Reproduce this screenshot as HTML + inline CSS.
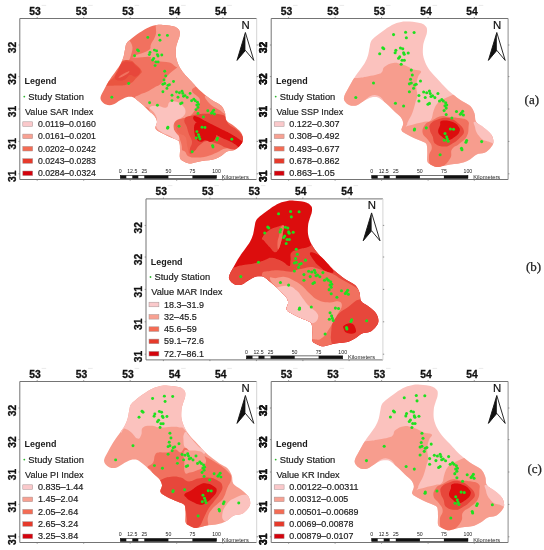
<!DOCTYPE html>
<html lang="en"><head><meta charset="utf-8"><title>Groundwater quality index maps</title>
<style>
html,body{margin:0;padding:0;background:#fff}
body{width:544px;height:550px;overflow:hidden}
svg{display:block}
.ax{font-family:"Liberation Sans",sans-serif;font-weight:700;font-size:10.3px;fill:#111;stroke:#111;stroke-width:0.3;text-anchor:middle}
.lg{font-family:"Liberation Sans",sans-serif;font-size:9px;fill:#1c1c1c;stroke:#1c1c1c;stroke-width:0.18}
.lgn{font-family:"Liberation Sans",sans-serif;font-size:8.6px;fill:#1c1c1c;stroke:#1c1c1c;stroke-width:0.18}
.lgb{font-family:"Liberation Sans",sans-serif;font-size:9px;font-weight:700;fill:#1a1a1a}
.sb{font-family:"Liberation Sans",sans-serif;font-size:5.2px;fill:#222;text-anchor:middle}
.km{font-family:"Liberation Sans",sans-serif;font-size:5.6px;fill:#222}
.n{font-family:"Liberation Sans",sans-serif;font-size:11.4px;fill:#111;stroke:#111;stroke-width:0.2;text-anchor:middle}
.pl{font-family:"Liberation Serif",serif;font-size:13px;fill:#222;stroke:#222;stroke-width:0.25}
.fr{fill:none;stroke:#747474;stroke-width:1}
.tk{stroke:#777;stroke-width:0.8}
.st{fill:#1fe01f}
</style></head><body>
<svg width="544" height="550" viewBox="0 0 544 550">
<defs>
<path id="outline" d="M157 25C159.4 24.6 161 24.9 163 25C165 25.1 167.2 25.2 169 25.5C170.8 25.8 172.7 26.1 174 26.5C175.3 26.9 176.1 27.2 177 28C177.9 28.8 179.1 29.7 179.5 31C179.9 32.3 179.8 34.2 179.5 36C179.2 37.8 178.1 40 177.5 42C176.9 44 176.2 45.5 176 48C175.8 50.5 175.5 54 176 57C176.5 60 177.7 63.2 179 66C180.3 68.8 182 71 184 73.5C186 76 188.8 78.7 191 81C193.2 83.3 194.8 85.3 197 87.5C199.2 89.7 201.3 91.8 204 94C206.7 96.2 210.2 98.8 213 100.7C215.8 102.6 219 103.5 221 105.5C223 107.5 224.1 110 225 112.5C225.9 115 225 118.2 226.5 120.5C228 122.8 231.6 124 234 126C236.4 128 239.5 130.2 241 132.5C242.5 134.8 243.2 137.8 243 140C242.8 142.2 241.4 143.9 240 145.6C238.6 147.3 236.7 149 234.5 150C232.3 151 229.2 150.5 227 151.5C224.8 152.5 223 154.8 221 156C219 157.2 217 158.3 215 159C213 159.7 211.2 160 209 160.3C206.8 160.6 204.3 160.6 202 161C199.7 161.4 197.2 162.1 195 162.5C192.8 162.9 191 163.8 189 163.5C187 163.2 184.5 161.9 183 161C181.5 160.1 180.5 159.8 180 158C179.5 156.2 180.1 152.3 180 150C179.9 147.7 180 145.6 179.7 144C179.4 142.4 179.7 141.6 178 140.4C176.3 139.2 172.6 138.3 169.4 136.8C166.2 135.3 161.3 133.1 159 131.6C156.7 130.1 155.7 129.6 155.4 128C155.1 126.4 157.1 124 157 122C156.9 120 156.1 118.1 154.7 116.2C153.3 114.3 150.4 112.4 148.5 110.5C146.6 108.6 144.7 106.6 143 105C141.3 103.4 139.9 102.2 138.2 100.9C136.5 99.6 134.9 97.8 133 97.2C131.1 96.6 128.6 96.7 126.5 97.2C124.4 97.7 122.8 98.8 120.6 100C118.3 101.2 115.4 103.8 113 104.6C110.6 105.4 107.9 105.2 106 104.6C104.1 104 102.4 102.3 101.5 101C100.6 99.7 100.2 98.5 100.7 96.5C101.2 94.5 102.8 92 104.4 89C106 86 108.3 81.9 110.3 78.8C112.3 75.7 114.5 73 116.2 70.5C117.9 68 119.4 66.2 120.6 64C121.8 61.8 122.8 59.4 123.5 57C124.2 54.6 124.5 51.6 125 49.4C125.5 47.1 125.5 45.2 126.5 43.5C127.5 41.8 128.8 40.8 131 39C133.2 37.2 136.8 34.4 139.7 32.5C142.6 30.6 145.6 28.6 148.5 27.4C151.4 26.1 154.6 25.4 157 25Z"/>
<clipPath id="cp0"><use href="#outline" transform="matrix(1.0 0 0 1.0 0 0)"/></clipPath>
<clipPath id="cp1"><use href="#outline" transform="matrix(1.049 0 0 1.05 238.5 -4.65)"/></clipPath>
<clipPath id="cp2"><use href="#outline" transform="matrix(1.049 0 0 1.05 123.5 174.55)"/></clipPath>
<clipPath id="cp3"><use href="#outline" transform="matrix(1.026 0 0 1.0265 0.94 360.1)"/></clipPath>
<clipPath id="cp4"><use href="#outline" transform="matrix(1.049 0 0 1.05 249.2 358.55)"/></clipPath>
<filter id="soft" x="-5%" y="-5%" width="110%" height="110%"><feGaussianBlur stdDeviation="0.5"/></filter>
<g id="stations"><circle class="st" cx="147.8" cy="37.4" r="1.45"/><circle class="st" cx="159.3" cy="35.1" r="1.45"/><circle class="st" cx="167.4" cy="35.4" r="1.45"/><circle class="st" cx="160" cy="40.3" r="1.45"/><circle class="st" cx="137.5" cy="49.9" r="1.45"/><circle class="st" cx="138.5" cy="50.9" r="1.45"/><circle class="st" cx="134.6" cy="55.7" r="1.45"/><circle class="st" cx="154.4" cy="50.1" r="1.45"/><circle class="st" cx="156.6" cy="50.9" r="1.45"/><circle class="st" cx="150" cy="52.4" r="1.45"/><circle class="st" cx="149.3" cy="54.6" r="1.45"/><circle class="st" cx="157.4" cy="54.6" r="1.45"/><circle class="st" cx="158" cy="56" r="1.45"/><circle class="st" cx="161.8" cy="55" r="1.45"/><circle class="st" cx="153.7" cy="58.5" r="1.45"/><circle class="st" cx="152.6" cy="60" r="1.45"/><circle class="st" cx="155.9" cy="61.9" r="1.45"/><circle class="st" cx="158.1" cy="61.9" r="1.45"/><circle class="st" cx="155.1" cy="65.6" r="1.45"/><circle class="st" cx="164.7" cy="71.2" r="1.45"/><circle class="st" cx="128.7" cy="83.5" r="1.45"/><circle class="st" cx="111.8" cy="97.2" r="1.45"/><circle class="st" cx="149.6" cy="102.8" r="1.45"/><circle class="st" cx="157.4" cy="105.3" r="1.45"/><circle class="st" cx="165.7" cy="75.9" r="1.45"/><circle class="st" cx="164" cy="80" r="1.45"/><circle class="st" cx="173.5" cy="81.5" r="1.45"/><circle class="st" cx="162.9" cy="84.3" r="1.45"/><circle class="st" cx="164.7" cy="83.5" r="1.45"/><circle class="st" cx="167.9" cy="85.4" r="1.45"/><circle class="st" cx="169.4" cy="84.7" r="1.45"/><circle class="st" cx="166.9" cy="88.4" r="1.45"/><circle class="st" cx="162.9" cy="91.8" r="1.45"/><circle class="st" cx="176.5" cy="92" r="1.45"/><circle class="st" cx="179.4" cy="92.8" r="1.45"/><circle class="st" cx="172" cy="95.3" r="1.45"/><circle class="st" cx="178" cy="97.2" r="1.45"/><circle class="st" cx="172" cy="100.6" r="1.45"/><circle class="st" cx="182" cy="91.2" r="1.45"/><circle class="st" cx="182.8" cy="93.4" r="1.45"/><circle class="st" cx="190.1" cy="93.4" r="1.45"/><circle class="st" cx="183.5" cy="96.3" r="1.45"/><circle class="st" cx="185" cy="95.6" r="1.45"/><circle class="st" cx="187.2" cy="97.4" r="1.45"/><circle class="st" cx="182" cy="102.9" r="1.45"/><circle class="st" cx="180.6" cy="103.7" r="1.45"/><circle class="st" cx="191.6" cy="100.7" r="1.45"/><circle class="st" cx="193.8" cy="99.3" r="1.45"/><circle class="st" cx="195.3" cy="100.7" r="1.45"/><circle class="st" cx="197.5" cy="102.2" r="1.45"/><circle class="st" cx="198.5" cy="104.4" r="1.45"/><circle class="st" cx="196.8" cy="105.1" r="1.45"/><circle class="st" cx="198" cy="107.4" r="1.45"/><circle class="st" cx="196" cy="109.6" r="1.45"/><circle class="st" cx="198" cy="113.5" r="1.45"/><circle class="st" cx="203.4" cy="116.9" r="1.45"/><circle class="st" cx="207.8" cy="110.7" r="1.45"/><circle class="st" cx="211.5" cy="113.2" r="1.45"/><circle class="st" cx="213.7" cy="110.3" r="1.45"/><circle class="st" cx="214.4" cy="114" r="1.45"/><circle class="st" cx="212.5" cy="112" r="1.45"/><circle class="st" cx="202" cy="127.2" r="1.45"/><circle class="st" cx="205" cy="127.5" r="1.45"/><circle class="st" cx="196.9" cy="131.6" r="1.45"/><circle class="st" cx="198.4" cy="134.6" r="1.45"/><circle class="st" cx="199.1" cy="136.8" r="1.45"/><circle class="st" cx="196.2" cy="137.9" r="1.45"/><circle class="st" cx="199.9" cy="139" r="1.45"/><circle class="st" cx="217.5" cy="138.2" r="1.45"/><circle class="st" cx="216.8" cy="140" r="1.45"/><circle class="st" cx="212.6" cy="145.6" r="1.45"/><circle class="st" cx="213" cy="147" r="1.45"/><circle class="st" cx="231.8" cy="139.3" r="1.45"/><circle class="st" cx="192.2" cy="151.8" r="1.45"/><circle class="st" cx="167.9" cy="127.2" r="1.45"/><circle class="st" cx="167.6" cy="128.3" r="1.45"/><circle class="st" cx="179" cy="126.2" r="1.45"/></g>
</defs>
<rect width="544" height="550" fill="#fff"/>
<g id="panel-SAR">
<g filter="url(#soft)"><g clip-path="url(#cp0)">
<rect x="19.8" y="18.5" width="240" height="165" fill="#f1715e"/>
<path d="M157.6 22C161.4 19 165.8 20.6 172 22C178.2 23.4 181.2 22.6 184 28C186.8 33.4 184.9 37.5 184 45C183.1 52.5 181.7 54.9 180 60C178.3 65.1 179.3 66.3 176.9 66.9C174.5 67.5 174 63.9 169.5 62.6C165 61.3 161.9 62.1 157.6 61.4C153.3 60.7 153 60.6 151.1 59.5C149.2 58.4 152.9 57.2 149.3 56.8C145.7 56.4 138.9 57.9 135.5 57.7C132.1 57.5 131.6 57.5 134.6 55.8C137.6 54.1 144.6 53.1 148.4 50.3C152.2 47.5 149.4 47.5 151.1 43.9C152.8 40.3 154.2 39.8 155.7 34.7C157.2 29.6 153.8 25 157.6 22Z" fill="#f79d8e"/>
<path d="M126 40C128.3 38.4 130.8 41.5 132 45C133.2 48.5 132.2 51 131 55C129.8 59 129.6 60.1 127 62C124.4 63.9 121.2 65.3 120 63C118.8 60.7 120.6 57.4 122 52C123.4 46.6 123.7 41.6 126 40Z" fill="#f79d8e"/>
<path d="M176.5 68C174.2 70.1 172.5 70.6 169.1 74.1C165.7 77.6 165.2 79.8 161.8 82.9C158.4 86 157.9 85.3 154.4 87.4C150.9 89.5 150.4 90.1 147 91.8C143.6 93.5 142.5 93.1 139.7 94.7C136.9 96.3 134.2 96.1 135 98.5C135.8 100.9 139.5 101.8 143 105C146.5 108.2 148.8 106.2 150 112C151.2 117.8 144.5 123.5 148 130C151.5 136.5 158 133 165 140C172 147 174 157.7 178 160C182 162.3 181.7 155.4 182 150C182.3 144.6 180.4 140.9 179.1 137C177.8 133.1 177.6 135.4 176.3 133.3C175 131.2 173.8 130.6 173.6 127.8C173.4 125 172.6 123.8 175.4 121.4C178.2 119 182.1 119 185.5 117.7C188.9 116.4 187.8 117.8 190 116C192.2 114.2 192.7 113.7 195 110C197.3 106.3 200.7 104.4 200 100C199.3 95.6 192.9 94.7 192 91C191.1 87.3 197.2 88.4 196 84C194.8 79.6 191 76.4 187 72C183 67.6 181.4 65.9 179 65C176.6 64.1 178.8 65.9 176.5 68Z" fill="#f79d8e"/>
<path d="M205 96C205.9 95 209.8 97.2 214 99.5C218.2 101.8 220.2 102.6 223 106C225.8 109.4 227 113.2 226 114C225 114.8 222.3 111.7 218.6 109.4C214.9 107.1 213.2 107.1 210 104C206.8 100.9 204.1 97 205 96Z" fill="#f79d8e"/>
<path d="M178 152C178.9 148.5 181.4 149.9 184 151C186.6 152.1 185.7 155 189 156.5C192.3 158 193.6 157.6 198 157.5C202.4 157.4 203.6 157.2 208 156C212.4 154.8 212.8 154.2 217 152.5C221.2 150.8 221.6 149 226 148.5C230.4 148 234.6 148.3 236 150.5C237.4 152.7 236.7 154.8 232 158C227.3 161.2 224.4 161.7 216 164C207.6 166.3 204.4 167.5 196 168C187.6 168.5 184.2 169.7 180 166C175.8 162.3 177.1 155.5 178 152Z" fill="#f79d8e"/>
<path d="M149.7 107.6C150.3 105.9 153.2 105.7 157 105.7C160.8 105.7 163.2 108.5 166.2 107.6C169.2 106.7 167.3 103.3 169.9 102C172.5 100.7 174.3 101.1 177.3 102C180.3 102.9 180.9 103.5 182.8 105.7C184.7 107.9 185.5 108.7 185.5 111.3C185.5 113.9 185.2 114.4 182.8 116.8C180.4 119.2 177.5 118.8 175.4 121.4C173.3 124 173.4 125 173.6 127.8C173.8 130.6 175 131.2 176.3 133.3C177.6 135.4 178.9 135.3 179.1 137C179.3 138.7 179.4 140.9 177.3 140.7C175.2 140.5 173.8 138.2 169.9 136.1C166 134 163.9 133.9 160.7 131.5C157.5 129.1 157 128.8 156.1 126C155.2 123.2 157.4 122.5 157 119.5C156.6 116.5 156 115.9 154.3 113.1C152.6 110.3 149.1 109.3 149.7 107.6Z" fill="#fbc2be"/>
<path d="M121.7 62.1C122.7 60.9 122.3 60.6 124.5 60.3C126.7 60 128.5 59.9 131.1 60.8C133.7 61.7 133.1 62.1 135.5 64.3C137.9 66.5 140.2 68.2 141.3 70.4C142.4 72.6 141.6 72 140.2 73.9C138.8 75.8 137.6 76.6 135.5 78.7C133.4 80.8 133.4 81.7 131.1 83.1C128.8 84.5 129 84.3 125.6 84.9C122.2 85.5 121.3 85.4 116.7 85.5C112.1 85.6 108.7 86.1 106 85.5C103.3 84.9 103.5 84.7 105 83.1C106.5 81.5 109.6 81.3 112.3 78.7C115 76.1 114.9 75.2 116.7 72.1C118.5 69 118.9 67.7 120.1 65.4C121.3 63.1 120.7 63.3 121.7 62.1Z" fill="#ea5541"/>
<path d="M122.5 63C125.5 60.9 127.8 61.3 131 62C134.2 62.7 133.8 63.9 136 66C138.2 68.1 140.3 68.5 140.3 71C140.3 73.5 138.4 75.6 136 76.5C133.6 77.4 132.6 74.3 130 75C127.4 75.7 127.6 78.2 125 79.5C122.4 80.8 121.3 80.8 119 80.5C116.7 80.2 115.2 80.2 115 78C114.8 75.8 116.2 74.5 118 71C119.8 67.5 119.5 65.1 122.5 63Z" fill="#e7463a"/>
<path d="M119.6 76.2C121.3 74.9 125.5 72.5 127.6 71.7C129.7 70.9 130.1 71.6 128.4 72.9C126.7 74.2 122.5 76.6 120.4 77.4C118.3 78.2 117.9 77.5 119.6 76.2Z" fill="#f1715e"/>
<path d="M175.4 121.4C177.5 119 181.2 119 185.5 117.7C189.8 116.4 190.4 116.2 193.8 115.8C197.2 115.4 200.4 112.7 200 116C199.6 119.3 193.6 123.9 192 130C190.4 136.1 192.2 137.8 193 142C193.8 146.2 196.3 145.2 195.6 148C194.9 150.8 192 154.4 190.1 154C188.2 153.6 188.5 150.2 187.4 146.2C186.3 142.2 187.4 140 185.5 137C183.6 134 181.2 135.4 179.1 133.3C177 131.2 177.2 130.6 176.3 127.8C175.4 125 173.3 123.8 175.4 121.4Z" fill="#ee6755"/>
<path d="M184.7 119C186.2 116.2 188.3 116.5 193.5 115.3C198.7 114.1 199.9 113.9 206.8 113.8C213.7 113.7 218.3 113.4 222.9 115C227.5 116.6 225 118.2 226.5 120.5C228 122.8 227.1 122.8 229.5 125C231.9 127.2 233.7 127.1 237 130C240.3 132.9 241.6 134.1 243.5 137.4C245.4 140.7 245.8 141.3 245 144C244.2 146.7 242.8 147.7 240 149C237.2 150.3 236.5 149.9 233.2 149.6C229.9 149.3 229 148.7 225.9 147.6C222.8 146.5 222.8 145.8 220 144.7C217.2 143.6 217.2 143.7 214.1 142.8C211 141.9 210.2 140.4 206.8 141C203.4 141.6 202.2 143 199.4 145.2C196.6 147.4 197.1 148.7 195 150.6C192.9 152.5 191.8 153.8 190.6 153.5C189.4 153.2 189.6 151.8 189.9 149.1C190.2 146.4 192.3 145.2 192.1 141.8C191.9 138.4 190.3 137.8 189.1 134.4C187.9 131 187.9 130.7 186.9 127.1C185.9 123.5 183.2 121.8 184.7 119Z" fill="#e7463a"/>
<path d="M195 124.1C196.2 122 196.3 122.4 199.4 122.6C202.5 122.8 204.4 123.2 208.2 124.9C212 126.6 213.9 127.1 215.6 130C217.3 132.9 216.6 134.6 215.6 137.4C214.6 140.2 213.6 141.1 211.2 141.8C208.8 142.5 207.7 140.3 205.3 140.3C202.9 140.3 203 142.2 200.9 141.8C198.8 141.5 198 141.2 196.5 138.8C195 136.4 194.7 134.9 194.3 131.5C194 128.1 193.8 126.2 195 124.1Z" fill="#dc0a0c"/>
<path d="M193.5 116.8C194.2 116 193.8 115.4 197.2 116.8C200.6 118.2 202.9 119.9 208.2 122.6C213.5 125.3 214.5 125.7 220 128.5C225.5 131.3 227 131.6 231.8 134.4C236.6 137.2 237.5 137.8 240.6 140.3C243.7 142.8 244.8 143 245 145C245.2 147 243.9 149.2 241.5 149C239.1 148.8 238.3 146.2 234.7 144C231.1 141.8 230.4 141.8 225.9 139.6C221.4 137.4 220.1 136.8 215.6 134.4C211.1 132 210.6 131.7 206.8 129.3C203 126.9 202.3 126.2 199.4 124.1C196.5 122 195.7 122.1 194.3 120.4C192.9 118.7 192.8 117.6 193.5 116.8Z" fill="#dc0a0c"/>
</g></g>
<use href="#stations" transform="matrix(1.0 0 0 1.0 0 0)"/>
<path class="fr" d="M256.7 18.5H19.8V179.5H256.7"/>
<path class="fr" style="stroke:#d4d4d4" d="M256.7 18.5V179.5"/>
<text class="ax" x="35" y="14.7">53</text>
<line class="tk" x1="37.2" y1="17.1" x2="37.2" y2="18.5"/>
<line class="tk" x1="37.2" y1="179.5" x2="37.2" y2="180.7"/>
<text class="ax" x="81.5" y="14.7">53</text>
<line class="tk" x1="83.7" y1="17.1" x2="83.7" y2="18.5"/>
<line class="tk" x1="83.7" y1="179.5" x2="83.7" y2="180.7"/>
<text class="ax" x="128" y="14.7">53</text>
<line class="tk" x1="130.2" y1="17.1" x2="130.2" y2="18.5"/>
<line class="tk" x1="130.2" y1="179.5" x2="130.2" y2="180.7"/>
<text class="ax" x="174.5" y="14.7">54</text>
<line class="tk" x1="176.7" y1="17.1" x2="176.7" y2="18.5"/>
<line class="tk" x1="176.7" y1="179.5" x2="176.7" y2="180.7"/>
<text class="ax" x="220.7" y="14.7">54</text>
<line class="tk" x1="222.9" y1="17.1" x2="222.9" y2="18.5"/>
<line class="tk" x1="222.9" y1="179.5" x2="222.9" y2="180.7"/>
<rect x="41.6" y="4.9" width="4.6" height="0.8" fill="#e4e4e4"/>
<rect x="88.1" y="4.9" width="4.6" height="0.8" fill="#e4e4e4"/>
<rect x="134.6" y="4.9" width="4.6" height="0.8" fill="#e4e4e4"/>
<rect x="181.1" y="4.9" width="4.6" height="0.8" fill="#e4e4e4"/>
<rect x="227.3" y="4.9" width="4.6" height="0.8" fill="#e4e4e4"/>
<text class="ax" transform="translate(12.1 47.4) rotate(-90)" y="3.8">32</text>
<line class="tk" x1="18.5" y1="45" x2="19.8" y2="45"/>
<line class="tk" x1="256.7" y1="45" x2="258" y2="45"/>
<text class="ax" transform="translate(12.1 79) rotate(-90)" y="3.8">32</text>
<line class="tk" x1="18.5" y1="76.6" x2="19.8" y2="76.6"/>
<line class="tk" x1="256.7" y1="76.6" x2="258" y2="76.6"/>
<text class="ax" transform="translate(12.1 111.4) rotate(-90)" y="3.8">31</text>
<line class="tk" x1="18.5" y1="109" x2="19.8" y2="109"/>
<line class="tk" x1="256.7" y1="109" x2="258" y2="109"/>
<text class="ax" transform="translate(12.1 143.8) rotate(-90)" y="3.8">31</text>
<line class="tk" x1="18.5" y1="141.4" x2="19.8" y2="141.4"/>
<line class="tk" x1="256.7" y1="141.4" x2="258" y2="141.4"/>
<text class="ax" transform="translate(12.1 176.2) rotate(-90)" y="3.8">31</text>
<line class="tk" x1="18.5" y1="173.8" x2="19.8" y2="173.8"/>
<line class="tk" x1="256.7" y1="173.8" x2="258" y2="173.8"/>
<text class="lgb" x="24.6" y="84.2" textLength="31.8" lengthAdjust="spacingAndGlyphs">Legend</text>
<circle cx="24.3" cy="96.6" r="0.9" fill="#2db52d"/>
<text class="lg" x="28.3" y="99.8" textLength="55.6" lengthAdjust="spacingAndGlyphs">Study Station</text>
<text class="lg" x="25" y="114.7" textLength="68.3" lengthAdjust="spacingAndGlyphs">Value SAR Index</text>
<rect x="22.8" y="121.8" width="9.9" height="4.6" fill="#fac9cb" stroke="#a39393" stroke-width="0.5"/>
<text class="lgn" x="37.9" y="127.1" textLength="58" lengthAdjust="spacingAndGlyphs">0.0119–0.0160</text>
<rect x="22.8" y="134.1" width="9.9" height="4.6" fill="#f8a192" stroke="#a39393" stroke-width="0.5"/>
<text class="lgn" x="37.9" y="139.4" textLength="58" lengthAdjust="spacingAndGlyphs">0.0161–0.0201</text>
<rect x="22.8" y="146.4" width="9.9" height="4.6" fill="#f46c54" stroke="#a39393" stroke-width="0.5"/>
<text class="lgn" x="37.9" y="151.7" textLength="58" lengthAdjust="spacingAndGlyphs">0.0202–0.0242</text>
<rect x="22.8" y="158.7" width="9.9" height="4.6" fill="#e63a2b" stroke="#a39393" stroke-width="0.5"/>
<text class="lgn" x="37.9" y="164" textLength="58" lengthAdjust="spacingAndGlyphs">0.0243–0.0283</text>
<rect x="22.8" y="171" width="9.9" height="4.6" fill="#d4020c" stroke="#a39393" stroke-width="0.5"/>
<text class="lgn" x="37.9" y="176.3" textLength="58" lengthAdjust="spacingAndGlyphs">0.0284–0.0324</text>
<rect x="120.3" y="175.5" width="96.2" height="2.9" fill="#fff" stroke="#111" stroke-width="0.6"/>
<rect x="120.3" y="175.5" width="6" height="2.9" fill="#111"/>
<rect x="132.3" y="175.5" width="6" height="2.9" fill="#111"/>
<rect x="144.3" y="175.5" width="24.1" height="2.9" fill="#111"/>
<rect x="192.4" y="175.5" width="24.1" height="2.9" fill="#111"/>
<text class="sb" x="120.3" y="173.2">0</text>
<text class="sb" x="132.3" y="173.2">12.5</text>
<text class="sb" x="144.3" y="173.2">25</text>
<text class="sb" x="168.4" y="173.2">50</text>
<text class="sb" x="192.4" y="173.2">75</text>
<text class="sb" x="216.5" y="173.2">100</text>
<text class="km" x="221.8" y="179" textLength="27" lengthAdjust="spacingAndGlyphs">Kilometers</text>
<text class="n" x="245.7" y="28.7">N</text>
<path d="M245.4 32.5 L253.8 60.4 L245.4 50.4 L237 60.4 Z" fill="#fff" stroke="#111" stroke-width="0.9" stroke-linejoin="miter"/>
<path d="M245.4 32.5 L245.4 50.4 L237 60.4 Z" fill="#111"/>
</g>
<g id="panel-SSP">
<g filter="url(#soft)"><g clip-path="url(#cp1)">
<rect x="271.2" y="18.5" width="240" height="165" fill="#fbc2be"/>
<path d="M335 80C340.2 74.8 349.9 78.7 357.5 77.9C365.1 77.1 362.9 77.2 367.6 76.4C372.3 75.6 374.1 75.3 377.5 74.3C380.9 73.3 380.3 73.8 382 72C383.7 70.2 382 68.9 384.6 66.8C387.2 64.7 389.5 63.7 393.3 63C397.1 62.3 397.3 63.1 400.7 64C404.1 64.9 405 65.4 408 66.7C411 68 410.5 68.4 413.5 69.5C416.5 70.6 419.8 69.6 420.9 71.3C422 73 419.2 73.4 418.1 76.8C417 80.2 416.5 81.7 416.3 86C416.1 90.3 417.4 91.3 417.2 95.2C417 99.1 416.5 98.5 415.4 102.6C414.3 106.7 414.2 108.1 412.5 112.6C410.8 117.1 409.4 118.6 407.9 121.8C406.4 125 408.3 122.9 406 126.4C403.7 129.9 401.7 139.7 398 137C394.3 134.3 395.4 124.8 390 115C384.6 105.2 384.3 95.7 375 95C365.7 94.3 359.3 110.8 350 112C340.7 113.2 338.5 107.5 335 100C331.5 92.5 329.8 85.2 335 80Z" fill="#f79d8e"/>
<path d="M404 128C407.6 125.1 408.6 125.9 413.4 124.5C418.2 123.1 420.3 122.9 424.4 121.8C428.5 120.7 428.7 122.5 430.8 119.9C432.9 117.3 432.1 114.5 433.6 110.7C435.1 106.9 435.2 106 437.3 103.4C439.4 100.8 439.8 101.4 442.8 99.7C445.8 98 446.7 97.3 450.1 96C453.5 94.7 454.5 93.8 457.5 94.2C460.5 94.6 458.4 94.7 463 97.9C467.6 101.1 473 101.4 477 108C481 114.6 475.3 118.5 480 126C484.7 133.5 493.5 133.2 497 140C500.5 146.8 503.6 147.5 495 155C486.4 162.5 476.3 168 460 172C443.7 176 439.5 180.2 425 172C410.5 163.8 402.9 147.3 398 137C393.1 126.7 400.4 130.9 404 128Z" fill="#f79d8e"/>
<path d="M474 122C475.2 121.3 476.7 122.1 480 124C483.3 125.9 484.7 127 488 130C491.3 133 492.1 133.7 494 137C495.9 140.3 496.7 142.7 496 144C495.3 145.3 492.9 143.1 491 142.5C489.1 141.9 489.7 142.1 487.8 141.4C485.9 140.7 484.9 141.1 482.8 139.7C480.7 138.3 480.2 137.5 478.7 135.6C477.2 133.7 477.1 133.5 476.2 131.5C475.3 129.5 475.5 129.2 475 127C474.5 124.8 472.8 122.7 474 122Z" fill="#fbc2be"/>
<path d="M422.6 132.8C421.9 129.2 423.2 127.3 425.3 124.5C427.4 121.7 428.1 122.7 431.8 120.8C435.5 118.9 436.7 117.1 441 116.3C445.3 115.5 445.8 116.8 450.1 117.2C454.4 117.6 455.2 117.3 459.3 118.1C463.4 118.9 465.5 118.7 467.6 120.8C469.7 122.9 468.7 123.6 468.5 127.3C468.3 131 468.8 132.7 466.7 136.5C464.6 140.3 462.7 140.8 459.3 143.8C455.9 146.8 454.1 145.9 452 149.3C449.9 152.7 452.7 154.3 450.1 158.5C447.5 162.7 445.3 165.4 441 167.5C436.7 169.6 434.6 170 431.8 167.5C429 165 429 161.4 429 156.7C429 152 432 151.4 431.8 147.5C431.6 143.6 430.2 143.5 428.1 140.1C426 136.7 423.3 136.4 422.6 132.8Z" fill="#f1715e"/>
<path d="M430.8 123.6C432.9 121 435 120.3 439.1 119C443.2 117.7 444 117.2 448.3 118.1C452.6 119 453.9 119.7 457.5 122.7C461.1 125.7 463.5 127.4 463.9 131C464.3 134.6 462.1 135.3 459.3 138.3C456.5 141.3 455.4 141.9 452 143.8C448.6 145.7 448.5 146.6 444.6 146.6C440.7 146.6 438.2 146.2 435.4 143.8C432.6 141.4 434 139.7 432.7 136.5C431.4 133.3 430.3 133 429.9 130C429.5 127 428.7 126.2 430.8 123.6Z" fill="#e7463a"/>
<path d="M441.9 120.8C444.7 120 448.1 120.5 452 121.8C455.9 123.1 456.7 124 458.4 126.4C460.1 128.8 460.4 129.3 459.3 131.9C458.2 134.5 456.6 135.5 453.8 137.4C451 139.3 450.2 140.3 447.4 140.1C444.6 139.9 444 138.4 441.9 136.5C439.8 134.6 438.6 134.5 438.2 131.9C437.8 129.3 439.1 128 440 125.4C440.9 122.8 439.1 121.6 441.9 120.8Z" fill="#dc0a0c"/>
</g></g>
<use href="#stations" transform="matrix(1.049 0 0 1.05 238.5 -4.65)"/>
<path class="fr" d="M508.1 18.5H271.2V179.5H508.1"/>
<path class="fr" style="stroke:#8c8c8c" d="M508.1 18.5V179.5"/>
<text class="ax" x="286.4" y="14.7">53</text>
<line class="tk" x1="288.6" y1="17.1" x2="288.6" y2="18.5"/>
<line class="tk" x1="288.6" y1="179.5" x2="288.6" y2="180.7"/>
<text class="ax" x="332.9" y="14.7">53</text>
<line class="tk" x1="335.1" y1="17.1" x2="335.1" y2="18.5"/>
<line class="tk" x1="335.1" y1="179.5" x2="335.1" y2="180.7"/>
<text class="ax" x="379.4" y="14.7">53</text>
<line class="tk" x1="381.6" y1="17.1" x2="381.6" y2="18.5"/>
<line class="tk" x1="381.6" y1="179.5" x2="381.6" y2="180.7"/>
<text class="ax" x="425.9" y="14.7">54</text>
<line class="tk" x1="428.1" y1="17.1" x2="428.1" y2="18.5"/>
<line class="tk" x1="428.1" y1="179.5" x2="428.1" y2="180.7"/>
<text class="ax" x="472.1" y="14.7">54</text>
<line class="tk" x1="474.3" y1="17.1" x2="474.3" y2="18.5"/>
<line class="tk" x1="474.3" y1="179.5" x2="474.3" y2="180.7"/>
<rect x="293" y="4.9" width="4.6" height="0.8" fill="#e4e4e4"/>
<rect x="339.5" y="4.9" width="4.6" height="0.8" fill="#e4e4e4"/>
<rect x="386" y="4.9" width="4.6" height="0.8" fill="#e4e4e4"/>
<rect x="432.5" y="4.9" width="4.6" height="0.8" fill="#e4e4e4"/>
<rect x="478.7" y="4.9" width="4.6" height="0.8" fill="#e4e4e4"/>
<text class="ax" transform="translate(263.5 47.4) rotate(-90)" y="3.8">32</text>
<line class="tk" x1="269.9" y1="45" x2="271.2" y2="45"/>
<line class="tk" x1="508.1" y1="45" x2="509.4" y2="45"/>
<text class="ax" transform="translate(263.5 79) rotate(-90)" y="3.8">32</text>
<line class="tk" x1="269.9" y1="76.6" x2="271.2" y2="76.6"/>
<line class="tk" x1="508.1" y1="76.6" x2="509.4" y2="76.6"/>
<text class="ax" transform="translate(263.5 111.4) rotate(-90)" y="3.8">31</text>
<line class="tk" x1="269.9" y1="109" x2="271.2" y2="109"/>
<line class="tk" x1="508.1" y1="109" x2="509.4" y2="109"/>
<text class="ax" transform="translate(263.5 143.8) rotate(-90)" y="3.8">31</text>
<line class="tk" x1="269.9" y1="141.4" x2="271.2" y2="141.4"/>
<line class="tk" x1="508.1" y1="141.4" x2="509.4" y2="141.4"/>
<text class="ax" transform="translate(263.5 176.2) rotate(-90)" y="3.8">31</text>
<line class="tk" x1="269.9" y1="173.8" x2="271.2" y2="173.8"/>
<line class="tk" x1="508.1" y1="173.8" x2="509.4" y2="173.8"/>
<text class="lgb" x="276" y="84.2" textLength="31.8" lengthAdjust="spacingAndGlyphs">Legend</text>
<circle cx="275.7" cy="96.6" r="0.9" fill="#2db52d"/>
<text class="lg" x="279.7" y="99.8" textLength="55.6" lengthAdjust="spacingAndGlyphs">Study Station</text>
<text class="lg" x="276.4" y="114.7" textLength="66.8" lengthAdjust="spacingAndGlyphs">Value SSP Index</text>
<rect x="274.2" y="121.8" width="9.9" height="4.6" fill="#fac9cb" stroke="#a39393" stroke-width="0.5"/>
<text class="lgn" x="289.3" y="127.1" textLength="50.3" lengthAdjust="spacingAndGlyphs">0.122–0.307</text>
<rect x="274.2" y="134.1" width="9.9" height="4.6" fill="#f8a192" stroke="#a39393" stroke-width="0.5"/>
<text class="lgn" x="289.3" y="139.4" textLength="50.3" lengthAdjust="spacingAndGlyphs">0.308–0.492</text>
<rect x="274.2" y="146.4" width="9.9" height="4.6" fill="#f46c54" stroke="#a39393" stroke-width="0.5"/>
<text class="lgn" x="289.3" y="151.7" textLength="50.3" lengthAdjust="spacingAndGlyphs">0.493–0.677</text>
<rect x="274.2" y="158.7" width="9.9" height="4.6" fill="#e63a2b" stroke="#a39393" stroke-width="0.5"/>
<text class="lgn" x="289.3" y="164" textLength="50.3" lengthAdjust="spacingAndGlyphs">0.678–0.862</text>
<rect x="274.2" y="171" width="9.9" height="4.6" fill="#d4020c" stroke="#a39393" stroke-width="0.5"/>
<text class="lgn" x="289.3" y="176.3" textLength="45.4" lengthAdjust="spacingAndGlyphs">0.863–1.05</text>
<rect x="371.7" y="175.5" width="96.2" height="2.9" fill="#fff" stroke="#111" stroke-width="0.6"/>
<rect x="371.7" y="175.5" width="6" height="2.9" fill="#111"/>
<rect x="383.7" y="175.5" width="6" height="2.9" fill="#111"/>
<rect x="395.8" y="175.5" width="24.1" height="2.9" fill="#111"/>
<rect x="443.9" y="175.5" width="24.1" height="2.9" fill="#111"/>
<text class="sb" x="371.7" y="173.2">0</text>
<text class="sb" x="383.7" y="173.2">12.5</text>
<text class="sb" x="395.8" y="173.2">25</text>
<text class="sb" x="419.8" y="173.2">50</text>
<text class="sb" x="443.9" y="173.2">75</text>
<text class="sb" x="467.9" y="173.2">100</text>
<text class="km" x="473.2" y="179" textLength="27" lengthAdjust="spacingAndGlyphs">Kilometers</text>
<text class="n" x="497.1" y="28.7">N</text>
<path d="M496.8 32.5 L505.2 60.4 L496.8 50.4 L488.4 60.4 Z" fill="#fff" stroke="#111" stroke-width="0.9" stroke-linejoin="miter"/>
<path d="M496.8 32.5 L496.8 50.4 L488.4 60.4 Z" fill="#111"/>
</g>
<g id="panel-MAR">
<g filter="url(#soft)"><g clip-path="url(#cp2)">
<rect x="146" y="198.9" width="240" height="165" fill="#dc0a0c"/>
<path d="M262.3 237.5C263.4 234.9 265.4 232.8 269.1 230.2C272.8 227.6 274.9 227.6 278.3 226.5C281.7 225.4 282.7 224.1 283.8 225.6C284.9 227.1 283.5 229.1 282.9 232.9C282.3 236.8 282.2 238.2 281.1 242.1C280 246 279.8 247.1 278.3 249.5C276.8 251.9 276.5 252.6 274.6 252.2C272.7 251.8 272.4 250.2 270 247.6C267.6 245 266.3 243.6 264.5 241.2C262.7 238.8 261.2 240.1 262.3 237.5Z" fill="#e7463a"/>
<path d="M280 228.5C281.1 226.3 283.1 224.6 283.8 225.6C284.5 226.6 283.5 229.1 282.9 232.9C282.3 236.8 282.2 238.2 281.1 242.1C280 246 279.1 249.5 278.3 249.5C277.5 249.5 277.3 245.4 277.5 242C277.7 238.6 278.6 238.2 279.2 235C279.8 231.8 278.9 230.7 280 228.5Z" fill="#f1715e"/>
<path d="M225 272C228.3 266.1 231.7 268.5 236 266.9C240.3 265.3 239.1 265.9 243.4 265.1C247.7 264.3 249.7 264.4 254.4 263.3C259.1 262.2 259.7 261.8 263.6 260.5C267.5 259.2 267.6 257.9 271 257.7C274.4 257.5 275.3 258.5 278.3 259.6C281.3 260.7 281.2 260.8 283.8 262.3C286.4 263.8 287.7 266.5 289.3 266C290.9 265.5 290 263.1 290.5 260C291 256.9 289.4 255 291.4 252.5C293.4 250 295.2 250.5 299.1 249.2C303 247.9 304 248.4 307.9 247C311.8 245.6 312.7 243.2 316 243C319.3 242.8 317.6 243.2 322 246C326.4 248.8 328.5 249.9 335 255C341.5 260.1 343 262.2 350 268C357 273.8 355.7 272.5 365 280C374.3 287.5 384.2 283.2 390 300C395.8 316.8 411 339.9 390 352C369 364.1 325.7 359.5 300 352C274.3 344.5 287 333.3 280 320C273 306.7 277 304.3 270 295C263 285.7 257 280.7 250 280C243 279.3 246.5 289.2 240 292C233.5 294.8 225.5 296.7 222 292C218.5 287.3 221.7 277.9 225 272Z" fill="#e7463a"/>
<path d="M310.2 252.7C311.4 251.5 315.8 253.4 319.7 255.9C323.6 258.4 323.9 259.6 327.1 263.3C330.3 267 333.4 269.7 333.4 271.7C333.4 273.7 330.1 272.7 327.1 271.7C324.1 270.7 323.7 270 320.7 267.5C317.7 265 316.8 264.6 314.4 261.1C311.9 257.6 309 253.9 310.2 252.7Z" fill="#dc0a0c"/>
<path d="M262 274C262.5 270.7 265.7 271.8 270 271C274.3 270.2 275.7 270.3 280.6 270.5C285.5 270.7 287.5 271.8 291.1 271.7C294.7 271.6 293.2 270.7 296 270C298.8 269.3 299.7 269.2 303 268.5C306.3 267.8 307.3 267.1 310.3 267C313.3 266.9 313.3 267.3 316 268C318.7 268.7 317.8 268.5 322 270C326.2 271.5 329.4 272.4 333.8 274.5C338.2 276.6 337.2 276.8 341 279C344.8 281.2 345.1 281 350 284C354.9 287 359.2 288.7 362 292C364.8 295.3 363.5 295.9 362 298C360.5 300.1 358.8 298.9 355.6 301C352.5 303.1 352.2 304.1 348.5 306.8C344.8 309.5 342.7 310.1 339.7 312.7C336.7 315.3 337.2 315.6 335.5 318C333.8 320.4 333.5 318.8 332.4 323C331.3 327.2 331.6 329.4 330.9 336.2C330.2 343 335.4 348.3 329.4 352C323.4 355.7 314.2 358.3 305 352C295.8 345.7 295.1 337.1 290 325C284.9 312.9 288.1 309.3 283 300C277.9 290.7 272.9 291.1 268 285C263.1 278.9 261.5 277.3 262 274Z" fill="#f1715e"/>
<path d="M270 279C269.1 275.1 272.8 278.6 276.3 278.1C279.8 277.6 280.8 276.5 284.8 277C288.8 277.5 289.4 278.2 293.3 280.2C297.2 282.2 298 282.5 301.7 285.5C305.4 288.5 305.2 289.4 309.1 292.9C313 296.4 313.9 298.1 318.6 300.3C323.3 302.5 324.7 302.2 329.2 302.4C333.7 302.6 334.7 300.6 337.7 301.3C340.7 302 341.9 302.5 341.9 305.5C341.9 308.5 339.7 310.3 337.7 314C335.7 317.7 335.4 317.9 333.4 321.4C331.4 324.9 331.6 325.1 329.2 328.8C326.8 332.5 326.1 334.8 322.9 337.3C319.7 339.8 320.8 339.9 315.5 339.4C310.2 338.9 307.1 340.7 300 335C292.9 329.3 289.7 324.3 285 315C280.3 305.7 283.5 303.4 280 295C276.5 286.6 270.9 282.9 270 279Z" fill="#f79d8e"/>
<path d="M278 287.2C280.9 286.5 284.2 285.2 288.5 286C292.8 286.8 293.3 287.8 296.6 290.6C299.9 293.4 299.6 294.3 302.5 297.9C305.4 301.5 305.8 302.6 309.1 306C312.4 309.4 314.4 309.7 316.5 312.6C318.6 315.5 318.6 316.1 317.9 318.5C317.2 320.9 315.9 322.2 313.5 323C311.1 323.8 311 322.8 307.6 321.8C304.2 320.8 302.9 320.2 298.8 318.8C294.7 317.4 293.5 317.2 290 316C286.5 314.8 285.6 316 284 313.5C282.4 311 282.8 308.6 283 305.3C283.2 302 285.5 302.2 285 299.4C284.5 296.6 283.1 295.9 281 293.5C278.9 291.1 276.7 290.5 276 289C275.3 287.5 275.1 287.9 278 287.2Z" fill="#fbc2be"/>
<path d="M344 325.6C345.7 324.2 348.7 322.8 351.4 323.5C354.1 324.2 354.9 326.6 355.6 328.8C356.3 331 356.6 332 354.6 333C352.6 334 349.7 333.8 347.2 333C344.7 332.2 344.7 331.2 344 329.5C343.3 327.8 342.3 327 344 325.6Z" fill="#dc0a0c"/>
</g></g>
<use href="#stations" transform="matrix(1.049 0 0 1.05 123.5 174.55)"/>
<path class="fr" d="M382.9 198.9H146V359.9H382.9"/>
<path class="fr" style="stroke:#d4d4d4" d="M382.9 198.9V359.9"/>
<text class="ax" x="161.2" y="195.1">53</text>
<line class="tk" x1="163.4" y1="197.5" x2="163.4" y2="198.9"/>
<line class="tk" x1="163.4" y1="359.9" x2="163.4" y2="361.1"/>
<text class="ax" x="207.7" y="195.1">53</text>
<line class="tk" x1="209.9" y1="197.5" x2="209.9" y2="198.9"/>
<line class="tk" x1="209.9" y1="359.9" x2="209.9" y2="361.1"/>
<text class="ax" x="254.2" y="195.1">53</text>
<line class="tk" x1="256.4" y1="197.5" x2="256.4" y2="198.9"/>
<line class="tk" x1="256.4" y1="359.9" x2="256.4" y2="361.1"/>
<text class="ax" x="300.7" y="195.1">54</text>
<line class="tk" x1="302.9" y1="197.5" x2="302.9" y2="198.9"/>
<line class="tk" x1="302.9" y1="359.9" x2="302.9" y2="361.1"/>
<text class="ax" x="346.9" y="195.1">54</text>
<line class="tk" x1="349.1" y1="197.5" x2="349.1" y2="198.9"/>
<line class="tk" x1="349.1" y1="359.9" x2="349.1" y2="361.1"/>
<rect x="167.8" y="185.3" width="4.6" height="0.8" fill="#e4e4e4"/>
<rect x="214.3" y="185.3" width="4.6" height="0.8" fill="#e4e4e4"/>
<rect x="260.8" y="185.3" width="4.6" height="0.8" fill="#e4e4e4"/>
<rect x="307.3" y="185.3" width="4.6" height="0.8" fill="#e4e4e4"/>
<rect x="353.5" y="185.3" width="4.6" height="0.8" fill="#e4e4e4"/>
<text class="ax" transform="translate(138.3 227.8) rotate(-90)" y="3.8">32</text>
<line class="tk" x1="144.7" y1="225.4" x2="146" y2="225.4"/>
<line class="tk" x1="382.9" y1="225.4" x2="384.2" y2="225.4"/>
<text class="ax" transform="translate(138.3 259.4) rotate(-90)" y="3.8">32</text>
<line class="tk" x1="144.7" y1="257" x2="146" y2="257"/>
<line class="tk" x1="382.9" y1="257" x2="384.2" y2="257"/>
<text class="ax" transform="translate(138.3 291.8) rotate(-90)" y="3.8">31</text>
<line class="tk" x1="144.7" y1="289.4" x2="146" y2="289.4"/>
<line class="tk" x1="382.9" y1="289.4" x2="384.2" y2="289.4"/>
<text class="ax" transform="translate(138.3 324.2) rotate(-90)" y="3.8">31</text>
<line class="tk" x1="144.7" y1="321.8" x2="146" y2="321.8"/>
<line class="tk" x1="382.9" y1="321.8" x2="384.2" y2="321.8"/>
<text class="ax" transform="translate(138.3 356.6) rotate(-90)" y="3.8">31</text>
<line class="tk" x1="144.7" y1="354.2" x2="146" y2="354.2"/>
<line class="tk" x1="382.9" y1="354.2" x2="384.2" y2="354.2"/>
<text class="lgb" x="150.8" y="264.6" textLength="31.8" lengthAdjust="spacingAndGlyphs">Legend</text>
<circle cx="150.5" cy="277" r="0.9" fill="#2db52d"/>
<text class="lg" x="154.5" y="280.2" textLength="55.6" lengthAdjust="spacingAndGlyphs">Study Station</text>
<text class="lg" x="151.2" y="295.1" textLength="71.3" lengthAdjust="spacingAndGlyphs">Value MAR Index</text>
<rect x="149" y="302.2" width="9.9" height="4.6" fill="#fac9cb" stroke="#a39393" stroke-width="0.5"/>
<text class="lgn" x="164.1" y="307.5" textLength="39.8" lengthAdjust="spacingAndGlyphs">18.3–31.9</text>
<rect x="149" y="314.5" width="9.9" height="4.6" fill="#f8a192" stroke="#a39393" stroke-width="0.5"/>
<text class="lgn" x="164.1" y="319.8" textLength="32.6" lengthAdjust="spacingAndGlyphs">32–45.5</text>
<rect x="149" y="326.8" width="9.9" height="4.6" fill="#f46c54" stroke="#a39393" stroke-width="0.5"/>
<text class="lgn" x="164.1" y="332.1" textLength="32.6" lengthAdjust="spacingAndGlyphs">45.6–59</text>
<rect x="149" y="339.1" width="9.9" height="4.6" fill="#e63a2b" stroke="#a39393" stroke-width="0.5"/>
<text class="lgn" x="164.1" y="344.4" textLength="39.8" lengthAdjust="spacingAndGlyphs">59.1–72.6</text>
<rect x="149" y="351.4" width="9.9" height="4.6" fill="#d4020c" stroke="#a39393" stroke-width="0.5"/>
<text class="lgn" x="164.1" y="356.7" textLength="39.8" lengthAdjust="spacingAndGlyphs">72.7–86.1</text>
<rect x="246.5" y="355.9" width="96.2" height="2.9" fill="#fff" stroke="#111" stroke-width="0.6"/>
<rect x="246.5" y="355.9" width="6" height="2.9" fill="#111"/>
<rect x="258.5" y="355.9" width="6" height="2.9" fill="#111"/>
<rect x="270.6" y="355.9" width="24.1" height="2.9" fill="#111"/>
<rect x="318.6" y="355.9" width="24.1" height="2.9" fill="#111"/>
<text class="sb" x="246.5" y="353.6">0</text>
<text class="sb" x="258.5" y="353.6">12.5</text>
<text class="sb" x="270.6" y="353.6">25</text>
<text class="sb" x="294.6" y="353.6">50</text>
<text class="sb" x="318.6" y="353.6">75</text>
<text class="sb" x="342.7" y="353.6">100</text>
<text class="km" x="348" y="359.4" textLength="27" lengthAdjust="spacingAndGlyphs">Kilometers</text>
<text class="n" x="371.9" y="209.1">N</text>
<path d="M371.6 212.9 L380 240.8 L371.6 230.8 L363.2 240.8 Z" fill="#fff" stroke="#111" stroke-width="0.9" stroke-linejoin="miter"/>
<path d="M371.6 212.9 L371.6 230.8 L363.2 240.8 Z" fill="#111"/>
</g>
<g id="panel-PI">
<g filter="url(#soft)"><g clip-path="url(#cp3)">
<rect x="19.8" y="381.5" width="240" height="165" fill="#f79d8e"/>
<path d="M120 428C121.1 439.3 122.1 427.5 124.7 428.5C127.3 429.5 128.1 429.8 131.1 432.2C134.1 434.6 135.1 438 137.5 438.6C139.9 439.2 139.9 437.5 141.2 434.9C142.5 432.3 140.6 429.7 143 427.6C145.4 425.5 147.2 425.7 151.3 425.7C155.4 425.7 155.8 427.4 160.5 427.6C165.2 427.8 166.8 426.7 171.5 426.7C176.2 426.7 177.7 427 180.7 427.6C183.7 428.2 182.3 427.3 184.4 429.4C186.5 431.5 186.7 432.9 189.9 436.8C193.1 440.7 194.5 442.5 198 446C201.5 449.5 204.5 449.7 205 452C205.5 454.3 203.1 455.7 200 456C196.9 456.3 195.2 455.2 191.8 453.3C188.4 451.4 187.2 450.8 185.3 447.8C183.4 444.8 183.7 443.8 183.5 440.4C183.3 437 182.9 436.7 184.4 433.1C185.9 429.5 187.5 437.4 190 425C192.5 412.6 211.3 390.5 195 380C178.7 369.5 137.5 368.8 120 380C102.5 391.2 118.9 416.7 120 428Z" fill="#fbc2be"/>
<path d="M155 455.1C156.3 452.7 155.7 453 158.7 452.4C161.7 451.8 164 453.1 167.8 452.4C171.7 451.7 172.2 449.6 175.2 449.6C178.2 449.6 178.3 452.8 180.7 452.4C183.1 452 182.7 447.6 185.3 447.8C187.9 448 188.8 452 191.8 453.3C194.8 454.6 193.2 451.7 198.3 453.5C203.4 455.3 207 457.1 213.7 461.2C220.4 465.3 223.1 466.8 227.2 470.9C231.3 475 231.1 474.5 231.1 478.6C231.1 482.7 229 483.8 227.2 488.3C225.4 492.8 225.6 494.3 223.4 497.9C221.2 501.5 220.3 501 217.6 503.7C214.9 506.4 214.1 506.3 211.8 509.5C209.5 512.6 209.3 512 207.9 517.2C206.5 522.5 211.3 528.5 206 532C200.7 535.5 191.1 537.1 185 532C178.9 526.9 186.3 518.2 180 510C173.7 501.8 164.1 504 158 497C151.9 490 155.6 486.1 154 480C152.4 473.9 152.8 473.8 151.3 470.8C149.8 467.8 147.2 469 147.6 467.1C148 465.2 151.4 465.3 153.1 462.5C154.8 459.7 153.7 457.5 155 455.1Z" fill="#f1715e"/>
<path d="M184 451.5C185.3 448.8 186.7 450.6 190 450.5C193.3 450.4 195 450.4 198 451C201 451.6 201.4 451.5 203 453C204.6 454.5 204.3 455.4 205 457.5C205.7 459.6 206.5 459.6 205.9 462C205.3 464.4 204.9 465.5 202.6 467.6C200.3 469.7 198.9 469.6 196 470.8C193.1 472 192.6 472.2 190 472.6C187.4 473 186.2 475.1 184.9 472.6C183.6 470.1 184.5 466.9 184.3 462C184.1 457.1 182.7 454.2 184 451.5Z" fill="#f79d8e"/>
<path d="M161.6 479.6C164.9 477.6 166.7 477.2 171.2 476.7C175.7 476.2 176.8 476.5 180.9 477.6C185 478.7 184.5 481.3 188.6 481.5C192.7 481.7 193.8 479.5 198.3 478.6C202.8 477.7 203.4 477.2 207.9 477.6C212.4 478 214.2 478.5 217.6 480.5C221 482.5 222 483.1 222.4 486.3C222.8 489.5 221.5 490.5 219.5 494.1C217.5 497.7 216.4 498.2 213.7 501.8C211 505.4 210.1 505.9 207.9 509.5C205.7 513.1 206.3 513.1 204.1 517.2C201.9 521.3 201.9 524.7 198.3 527C194.7 529.3 191.3 529.3 188.6 527C185.9 524.7 187.6 521.3 186.7 517.2C185.8 513.1 187 512.6 184.7 509.5C182.4 506.3 181 506.4 177 503.7C173 501 171.8 500.6 167.4 497.9C163 495.2 160.4 495 158 492.1C155.6 489.2 156.2 488.3 157 485.4C157.8 482.5 158.3 481.6 161.6 479.6Z" fill="#e7463a"/>
<path d="M184.7 494.1C185.8 492.3 188.3 492.2 191.5 490.2C194.7 488.2 194.9 487 198.3 485.4C201.7 483.8 202.4 483.2 206 483.4C209.6 483.6 211.2 484.5 213.7 486.3C216.2 488.1 217 488.5 216.6 491.2C216.2 493.9 214.3 495.2 211.8 497.9C209.3 500.6 208.7 501.1 206 502.7C203.3 504.3 203.3 504.9 200.2 504.7C197 504.5 195.7 503.4 192.5 501.8C189.3 500.2 188.5 499.7 186.7 497.9C184.9 496.1 183.6 495.9 184.7 494.1Z" fill="#dc0a0c"/>
<path d="M227.2 503.7C230.1 500.1 230.4 499.9 234.9 497.9C239.4 495.9 242 494.1 246.5 495C251 495.9 252.7 498.1 254 501.8C255.3 505.5 255.1 507.6 252 511C248.9 514.4 245.6 514.2 240.7 516.3C235.8 518.4 234.9 519.1 231.1 520.2C227.3 521.3 226.3 522.6 224.3 521C222.3 519.4 221.7 517.4 222.4 513.4C223.1 509.4 224.3 507.3 227.2 503.7Z" fill="#fbc2be"/>
</g></g>
<use href="#stations" transform="matrix(1.026 0 0 1.0265 0.94 360.1)"/>
<path class="fr" d="M256.7 381.5H19.8V542.5H256.7"/>
<path class="fr" style="stroke:#d4d4d4" d="M256.7 381.5V542.5"/>
<text class="ax" x="35" y="377.7">53</text>
<line class="tk" x1="37.2" y1="380.1" x2="37.2" y2="381.5"/>
<line class="tk" x1="37.2" y1="542.5" x2="37.2" y2="543.7"/>
<text class="ax" x="81.5" y="377.7">53</text>
<line class="tk" x1="83.7" y1="380.1" x2="83.7" y2="381.5"/>
<line class="tk" x1="83.7" y1="542.5" x2="83.7" y2="543.7"/>
<text class="ax" x="128" y="377.7">53</text>
<line class="tk" x1="130.2" y1="380.1" x2="130.2" y2="381.5"/>
<line class="tk" x1="130.2" y1="542.5" x2="130.2" y2="543.7"/>
<text class="ax" x="174.5" y="377.7">54</text>
<line class="tk" x1="176.7" y1="380.1" x2="176.7" y2="381.5"/>
<line class="tk" x1="176.7" y1="542.5" x2="176.7" y2="543.7"/>
<text class="ax" x="220.7" y="377.7">54</text>
<line class="tk" x1="222.9" y1="380.1" x2="222.9" y2="381.5"/>
<line class="tk" x1="222.9" y1="542.5" x2="222.9" y2="543.7"/>
<rect x="41.6" y="367.9" width="4.6" height="0.8" fill="#e4e4e4"/>
<rect x="88.1" y="367.9" width="4.6" height="0.8" fill="#e4e4e4"/>
<rect x="134.6" y="367.9" width="4.6" height="0.8" fill="#e4e4e4"/>
<rect x="181.1" y="367.9" width="4.6" height="0.8" fill="#e4e4e4"/>
<rect x="227.3" y="367.9" width="4.6" height="0.8" fill="#e4e4e4"/>
<text class="ax" transform="translate(12.1 410.4) rotate(-90)" y="3.8">32</text>
<line class="tk" x1="18.5" y1="408" x2="19.8" y2="408"/>
<line class="tk" x1="256.7" y1="408" x2="258" y2="408"/>
<text class="ax" transform="translate(12.1 442) rotate(-90)" y="3.8">32</text>
<line class="tk" x1="18.5" y1="439.6" x2="19.8" y2="439.6"/>
<line class="tk" x1="256.7" y1="439.6" x2="258" y2="439.6"/>
<text class="ax" transform="translate(12.1 474.4) rotate(-90)" y="3.8">31</text>
<line class="tk" x1="18.5" y1="472" x2="19.8" y2="472"/>
<line class="tk" x1="256.7" y1="472" x2="258" y2="472"/>
<text class="ax" transform="translate(12.1 506.8) rotate(-90)" y="3.8">31</text>
<line class="tk" x1="18.5" y1="504.4" x2="19.8" y2="504.4"/>
<line class="tk" x1="256.7" y1="504.4" x2="258" y2="504.4"/>
<text class="ax" transform="translate(12.1 539.2) rotate(-90)" y="3.8">31</text>
<line class="tk" x1="18.5" y1="536.8" x2="19.8" y2="536.8"/>
<line class="tk" x1="256.7" y1="536.8" x2="258" y2="536.8"/>
<text class="lgb" x="24.6" y="447.2" textLength="31.8" lengthAdjust="spacingAndGlyphs">Legend</text>
<circle cx="24.3" cy="459.6" r="0.9" fill="#2db52d"/>
<text class="lg" x="28.3" y="462.8" textLength="55.6" lengthAdjust="spacingAndGlyphs">Study Station</text>
<text class="lg" x="25" y="477.7" textLength="58.5" lengthAdjust="spacingAndGlyphs">Value PI Index</text>
<rect x="22.8" y="484.8" width="9.9" height="4.6" fill="#fac9cb" stroke="#a39393" stroke-width="0.5"/>
<text class="lgn" x="37.9" y="490.1" textLength="45.4" lengthAdjust="spacingAndGlyphs">0.835–1.44</text>
<rect x="22.8" y="497.1" width="9.9" height="4.6" fill="#f8a192" stroke="#a39393" stroke-width="0.5"/>
<text class="lgn" x="37.9" y="502.4" textLength="40.3" lengthAdjust="spacingAndGlyphs">1.45–2.04</text>
<rect x="22.8" y="509.4" width="9.9" height="4.6" fill="#f46c54" stroke="#a39393" stroke-width="0.5"/>
<text class="lgn" x="37.9" y="514.7" textLength="40.3" lengthAdjust="spacingAndGlyphs">2.05–2.64</text>
<rect x="22.8" y="521.7" width="9.9" height="4.6" fill="#e63a2b" stroke="#a39393" stroke-width="0.5"/>
<text class="lgn" x="37.9" y="527" textLength="40.3" lengthAdjust="spacingAndGlyphs">2.65–3.24</text>
<rect x="22.8" y="534" width="9.9" height="4.6" fill="#d4020c" stroke="#a39393" stroke-width="0.5"/>
<text class="lgn" x="37.9" y="539.3" textLength="40.3" lengthAdjust="spacingAndGlyphs">3.25–3.84</text>
<rect x="120.3" y="538.5" width="96.2" height="2.9" fill="#fff" stroke="#111" stroke-width="0.6"/>
<rect x="120.3" y="538.5" width="6" height="2.9" fill="#111"/>
<rect x="132.3" y="538.5" width="6" height="2.9" fill="#111"/>
<rect x="144.3" y="538.5" width="24.1" height="2.9" fill="#111"/>
<rect x="192.4" y="538.5" width="24.1" height="2.9" fill="#111"/>
<text class="sb" x="120.3" y="536.2">0</text>
<text class="sb" x="132.3" y="536.2">12.5</text>
<text class="sb" x="144.3" y="536.2">25</text>
<text class="sb" x="168.4" y="536.2">50</text>
<text class="sb" x="192.4" y="536.2">75</text>
<text class="sb" x="216.5" y="536.2">100</text>
<text class="km" x="221.8" y="542" textLength="27" lengthAdjust="spacingAndGlyphs">Kilometers</text>
<text class="n" x="245.7" y="391.7">N</text>
<path d="M245.4 395.5 L253.8 423.4 L245.4 413.4 L237 423.4 Z" fill="#fff" stroke="#111" stroke-width="0.9" stroke-linejoin="miter"/>
<path d="M245.4 395.5 L245.4 413.4 L237 423.4 Z" fill="#111"/>
</g>
<g id="panel-KR">
<g filter="url(#soft)"><g clip-path="url(#cp4)">
<rect x="271.2" y="381.5" width="240" height="165" fill="#fbc2be"/>
<path d="M345.9 443.2C351.1 438 360.8 441.9 368.4 441.1C376 440.3 373.8 440.4 378.5 439.6C383.2 438.8 385 438.5 388.4 437.5C391.8 436.5 391.2 436.9 392.9 435.2C394.6 433.4 392.9 432.1 395.5 430C398.1 427.9 400.4 426.9 404.2 426.2C408 425.5 408.2 426.3 411.6 427.2C415 428.1 415.9 428.6 418.9 429.9C421.9 431.2 421.4 431.6 424.4 432.7C427.4 433.8 430.7 432.8 431.8 434.5C432.9 436.2 430.1 436.6 429 440C427.9 443.4 427.4 444.9 427.2 449.2C427 453.5 428.3 454.5 428.1 458.4C427.9 462.3 427.4 461.7 426.3 465.8C425.2 469.9 425.1 471.3 423.4 475.8C421.6 480.3 420.3 481.8 418.8 485C417.3 488.2 419.2 486.1 416.9 489.6C414.6 493.1 412.6 502.9 408.9 500.2C405.2 497.5 406.3 488 400.9 478.2C395.5 468.4 395.2 458.9 385.9 458.2C376.6 457.5 370.2 474 360.9 475.2C351.6 476.4 349.4 470.7 345.9 463.2C342.4 455.7 340.6 448.4 345.9 443.2Z" fill="#f79d8e"/>
<path d="M414.9 491.2C418.5 488.3 419.5 489.1 424.3 487.7C429.1 486.3 431.2 486.1 435.3 485C439.4 483.9 439.6 485.7 441.7 483.1C443.8 480.5 443 477.8 444.5 473.9C446 470 446.1 469.2 448.2 466.6C450.3 464 450.7 464.6 453.7 462.9C456.7 461.2 457.6 460.5 461 459.2C464.4 457.9 465.4 457 468.4 457.4C471.4 457.8 469.3 457.9 473.9 461.1C478.4 464.3 483.9 464.6 487.9 471.2C491.9 477.8 486.2 481.7 490.9 489.2C495.6 496.7 504.4 496.4 507.9 503.2C511.4 510 514.5 510.7 505.9 518.2C497.3 525.7 487.2 531.2 470.9 535.2C454.6 539.2 450.4 543.4 435.9 535.2C421.4 527 413.8 510.5 408.9 500.2C404 489.9 411.3 494.1 414.9 491.2Z" fill="#f79d8e"/>
<path d="M484.9 485.2C486.1 484.5 487.6 485.3 490.9 487.2C494.2 489.1 495.6 490.2 498.9 493.2C502.2 496.2 503 496.9 504.9 500.2C506.8 503.5 507.6 505.9 506.9 507.2C506.2 508.5 503.8 506.3 501.9 505.7C500 505.1 500.6 505.3 498.7 504.6C496.8 503.9 495.8 504.3 493.7 502.9C491.6 501.5 491.1 500.7 489.6 498.8C488.1 496.9 488 496.7 487.1 494.7C486.2 492.7 486.4 492.4 485.9 490.2C485.4 488 483.7 485.9 484.9 485.2Z" fill="#fbc2be"/>
<path d="M433.5 496C432.8 492.4 434.1 490.5 436.2 487.7C438.3 484.9 439 485.9 442.7 484C446.4 482.1 447.6 480.3 451.9 479.5C456.2 478.7 456.7 480 461 480.4C465.3 480.8 466.1 480.5 470.2 481.3C474.3 482.1 476.4 481.9 478.5 484C480.6 486.1 479.6 486.8 479.4 490.5C479.2 494.2 479.7 495.8 477.6 499.7C475.5 503.6 473.6 504 470.2 507C466.8 510 465 509.1 462.9 512.5C460.8 515.9 463.6 517.5 461 521.7C458.4 525.9 456.2 528.6 451.9 530.7C447.6 532.8 445.5 533.2 442.7 530.7C439.9 528.2 439.9 524.6 439.9 519.9C439.9 515.2 442.9 514.6 442.7 510.7C442.5 506.8 441.1 506.7 439 503.3C436.9 499.9 434.2 499.6 433.5 496Z" fill="#f1715e"/>
<path d="M441.7 486.8C443.8 484.2 445.9 483.5 450 482.2C454.1 480.9 454.9 480.4 459.2 481.3C463.5 482.2 464.8 482.9 468.4 485.9C472 488.9 474.4 490.6 474.8 494.2C475.2 497.8 473 498.5 470.2 501.5C467.4 504.5 466.3 505.1 462.9 507C459.5 508.9 459.4 509.8 455.5 509.8C451.6 509.8 449.1 509.4 446.3 507C443.5 504.6 444.9 502.9 443.6 499.7C442.3 496.5 441.2 496.2 440.8 493.2C440.4 490.2 439.6 489.4 441.7 486.8Z" fill="#e7463a"/>
<path d="M452.8 484C455.6 483.2 459 483.7 462.9 485C466.8 486.3 467.6 487.2 469.3 489.6C471 492 471.3 492.5 470.2 495.1C469.1 497.7 467.5 498.7 464.7 500.6C461.9 502.5 461.1 503.5 458.3 503.3C455.5 503.1 454.9 501.6 452.8 499.7C450.7 497.8 449.5 497.7 449.1 495.1C448.7 492.5 450 491.2 450.9 488.6C451.8 486 450 484.8 452.8 484Z" fill="#dc0a0c"/>
</g></g>
<use href="#stations" transform="matrix(1.049 0 0 1.05 249.2 358.55)"/>
<path class="fr" d="M508.1 381.5H271.2V542.5H508.1"/>
<path class="fr" style="stroke:#8c8c8c" d="M508.1 381.5V542.5"/>
<text class="ax" x="286.4" y="377.7">53</text>
<line class="tk" x1="288.6" y1="380.1" x2="288.6" y2="381.5"/>
<line class="tk" x1="288.6" y1="542.5" x2="288.6" y2="543.7"/>
<text class="ax" x="332.9" y="377.7">53</text>
<line class="tk" x1="335.1" y1="380.1" x2="335.1" y2="381.5"/>
<line class="tk" x1="335.1" y1="542.5" x2="335.1" y2="543.7"/>
<text class="ax" x="379.4" y="377.7">53</text>
<line class="tk" x1="381.6" y1="380.1" x2="381.6" y2="381.5"/>
<line class="tk" x1="381.6" y1="542.5" x2="381.6" y2="543.7"/>
<text class="ax" x="425.9" y="377.7">54</text>
<line class="tk" x1="428.1" y1="380.1" x2="428.1" y2="381.5"/>
<line class="tk" x1="428.1" y1="542.5" x2="428.1" y2="543.7"/>
<text class="ax" x="472.1" y="377.7">54</text>
<line class="tk" x1="474.3" y1="380.1" x2="474.3" y2="381.5"/>
<line class="tk" x1="474.3" y1="542.5" x2="474.3" y2="543.7"/>
<rect x="293" y="367.9" width="4.6" height="0.8" fill="#e4e4e4"/>
<rect x="339.5" y="367.9" width="4.6" height="0.8" fill="#e4e4e4"/>
<rect x="386" y="367.9" width="4.6" height="0.8" fill="#e4e4e4"/>
<rect x="432.5" y="367.9" width="4.6" height="0.8" fill="#e4e4e4"/>
<rect x="478.7" y="367.9" width="4.6" height="0.8" fill="#e4e4e4"/>
<text class="ax" transform="translate(263.5 410.4) rotate(-90)" y="3.8">32</text>
<line class="tk" x1="269.9" y1="408" x2="271.2" y2="408"/>
<line class="tk" x1="508.1" y1="408" x2="509.4" y2="408"/>
<text class="ax" transform="translate(263.5 442) rotate(-90)" y="3.8">32</text>
<line class="tk" x1="269.9" y1="439.6" x2="271.2" y2="439.6"/>
<line class="tk" x1="508.1" y1="439.6" x2="509.4" y2="439.6"/>
<text class="ax" transform="translate(263.5 474.4) rotate(-90)" y="3.8">31</text>
<line class="tk" x1="269.9" y1="472" x2="271.2" y2="472"/>
<line class="tk" x1="508.1" y1="472" x2="509.4" y2="472"/>
<text class="ax" transform="translate(263.5 506.8) rotate(-90)" y="3.8">31</text>
<line class="tk" x1="269.9" y1="504.4" x2="271.2" y2="504.4"/>
<line class="tk" x1="508.1" y1="504.4" x2="509.4" y2="504.4"/>
<text class="ax" transform="translate(263.5 539.2) rotate(-90)" y="3.8">31</text>
<line class="tk" x1="269.9" y1="536.8" x2="271.2" y2="536.8"/>
<line class="tk" x1="508.1" y1="536.8" x2="509.4" y2="536.8"/>
<text class="lgb" x="276" y="447.2" textLength="31.8" lengthAdjust="spacingAndGlyphs">Legend</text>
<circle cx="275.7" cy="459.6" r="0.9" fill="#2db52d"/>
<text class="lg" x="279.7" y="462.8" textLength="55.6" lengthAdjust="spacingAndGlyphs">Study Station</text>
<text class="lg" x="276.4" y="477.7" textLength="63.2" lengthAdjust="spacingAndGlyphs">Value KR Index</text>
<rect x="274.2" y="484.8" width="9.9" height="4.6" fill="#fac9cb" stroke="#a39393" stroke-width="0.5"/>
<text class="lgn" x="289.3" y="490.1" textLength="69.2" lengthAdjust="spacingAndGlyphs">0.00122–0.00311</text>
<rect x="274.2" y="497.1" width="9.9" height="4.6" fill="#f8a192" stroke="#a39393" stroke-width="0.5"/>
<text class="lgn" x="289.3" y="502.4" textLength="59" lengthAdjust="spacingAndGlyphs">0.00312–0.005</text>
<rect x="274.2" y="509.4" width="9.9" height="4.6" fill="#f46c54" stroke="#a39393" stroke-width="0.5"/>
<text class="lgn" x="289.3" y="514.7" textLength="69.2" lengthAdjust="spacingAndGlyphs">0.00501–0.00689</text>
<rect x="274.2" y="521.7" width="9.9" height="4.6" fill="#e63a2b" stroke="#a39393" stroke-width="0.5"/>
<text class="lgn" x="289.3" y="527" textLength="64.1" lengthAdjust="spacingAndGlyphs">0.0069–0.00878</text>
<rect x="274.2" y="534" width="9.9" height="4.6" fill="#d4020c" stroke="#a39393" stroke-width="0.5"/>
<text class="lgn" x="289.3" y="539.3" textLength="64.1" lengthAdjust="spacingAndGlyphs">0.00879–0.0107</text>
<rect x="371.7" y="538.5" width="96.2" height="2.9" fill="#fff" stroke="#111" stroke-width="0.6"/>
<rect x="371.7" y="538.5" width="6" height="2.9" fill="#111"/>
<rect x="383.7" y="538.5" width="6" height="2.9" fill="#111"/>
<rect x="395.8" y="538.5" width="24.1" height="2.9" fill="#111"/>
<rect x="443.9" y="538.5" width="24.1" height="2.9" fill="#111"/>
<text class="sb" x="371.7" y="536.2">0</text>
<text class="sb" x="383.7" y="536.2">12.5</text>
<text class="sb" x="395.8" y="536.2">25</text>
<text class="sb" x="419.8" y="536.2">50</text>
<text class="sb" x="443.9" y="536.2">75</text>
<text class="sb" x="467.9" y="536.2">100</text>
<text class="km" x="473.2" y="542" textLength="27" lengthAdjust="spacingAndGlyphs">Kilometers</text>
<text class="n" x="497.1" y="391.7">N</text>
<path d="M496.8 395.5 L505.2 423.4 L496.8 413.4 L488.4 423.4 Z" fill="#fff" stroke="#111" stroke-width="0.9" stroke-linejoin="miter"/>
<path d="M496.8 395.5 L496.8 413.4 L488.4 423.4 Z" fill="#111"/>
</g>
<text class="ax" transform="translate(263.4 47.4) rotate(-90)" y="3.8">32</text>
<text class="ax" transform="translate(263.4 79) rotate(-90)" y="3.8">32</text>
<text class="ax" transform="translate(263.4 111.4) rotate(-90)" y="3.8">31</text>
<text class="ax" transform="translate(263.4 143.8) rotate(-90)" y="3.8">31</text>
<text class="ax" transform="translate(263.4 176.2) rotate(-90)" y="3.8">31</text>
<text class="ax" transform="translate(263.4 410.4) rotate(-90)" y="3.8">32</text>
<text class="ax" transform="translate(263.4 442) rotate(-90)" y="3.8">32</text>
<text class="ax" transform="translate(263.4 474.4) rotate(-90)" y="3.8">31</text>
<text class="ax" transform="translate(263.4 506.8) rotate(-90)" y="3.8">31</text>
<text class="ax" transform="translate(263.4 539.2) rotate(-90)" y="3.8">31</text>
<text class="pl" x="524.6" y="103.7">(a)</text>
<text class="pl" x="525.9" y="270.7">(b)</text>
<text class="pl" x="527.5" y="472.8">(c)</text>
</svg></body></html>
